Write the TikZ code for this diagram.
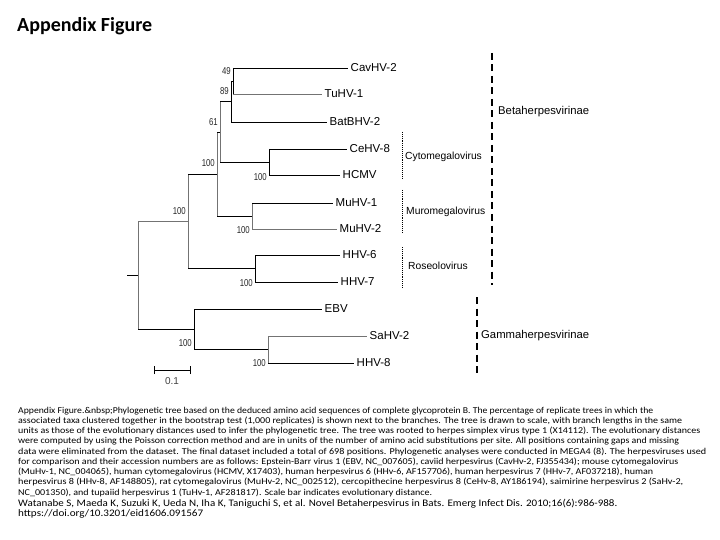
\documentclass[tikz,border=0pt]{standalone}
\usepackage{fontspec}
\usepackage{graphicx}
\setmainfont{Carlito}
\newfontfamily\arf{Liberation Sans}
\newcommand\bsn[1]{\scalebox{0.78}[1]{#1}}
\begin{document}
\begin{tikzpicture}[x=1pt,y=-1pt,
  br/.style={line width=0.95pt, black},
  tn/.style={line width=0.6pt, black},
  lt/.style={line width=0.6pt, black!55},
  leaf/.style={anchor=west, inner xsep=2.5pt, inner ysep=0pt, font=\arf\fontsize{11.5}{12}\selectfont},
  genus/.style={anchor=west, inner sep=0pt, font=\arf\fontsize{10.3}{11}\selectfont},
  subfam/.style={anchor=west, inner sep=0pt, font=\arf\fontsize{11.3}{12}\selectfont},
  bs/.style={anchor=east, inner sep=0pt, font=\arf\fontsize{10}{10}\selectfont, text=black!85},
  capl/.style={anchor=base west, inner sep=0pt, font=\fontsize{9}{10}\selectfont},
  citl/.style={anchor=base west, inner sep=0pt, font=\fontsize{10}{11}\selectfont},
  dotl/.style={line width=0.7pt, dash pattern=on 0.7pt off 1.2pt},
  dashl/.style={line width=1.7pt, dash pattern=on 7pt off 4.5pt}]
\useasboundingbox (0,0) rectangle (720,540);

% title
\node[anchor=base west, inner sep=0pt, font=\bfseries\fontsize{20}{24}\selectfont] (title) at (17,32) {Appendix Figure};

% leaves
\node[leaf] (cav)  at (348,68)  {CavHV-2};
\node[leaf] (tu)   at (322,94)  {TuHV-1};
\node[leaf] (bat)  at (327,122) {BatBHV-2};
\node[leaf] (ce)   at (347,149) {CeHV-8};
\node[leaf] (hcmv) at (340,175) {HCMV};
\node[leaf] (mu1)  at (333,203) {MuHV-1};
\node[leaf] (mu2)  at (337,229) {MuHV-2};
\node[leaf] (h6)   at (340,255) {HHV-6};
\node[leaf] (h7)   at (338,282) {HHV-7};
\node[leaf] (ebv)  at (322,309) {EBV};
\node[leaf] (sa)   at (367,336) {SaHV-2};
\node[leaf] (h8)   at (354,363) {HHV-8};

% internal nodes
\coordinate (n1)   at (233,81);
\coordinate (n2)   at (231,101.5);
\coordinate (cmv)  at (269,162);
\coordinate (n3)   at (220,132);
\coordinate (muro) at (252,216);
\coordinate (n4)   at (217,174);
\coordinate (ros)  at (255,268.5);
\coordinate (beta) at (188,221.25);
\coordinate (sh)   at (268,349.5);
\coordinate (gam)  at (194,329.25);
\coordinate (root) at (138,275.25);
\coordinate (stub) at (127,275.25);

% n1
\draw[tn] (n1 |- cav.west) -- (n1 |- tu.west);
\draw[tn] (n1 |- cav.west) -- (cav.west);
\draw[lt] (n1 |- tu.west) -- (tu.west);
% n2
\draw[tn] (n2 |- n1) -- (n2 |- bat.west);
\draw[tn] (n2 |- n1) -- (n1);
\draw[br] (n2 |- bat.west) -- (bat.west);
% cmv
\draw[tn] (cmv |- ce.west) -- (cmv |- hcmv.west);
\draw[br] (cmv |- ce.west) -- (ce.west);
\draw[br] (cmv |- hcmv.west) -- (hcmv.west);
% n3
\draw[lt] (n3 |- n2) -- (n3 |- cmv);
\draw[br] (n3 |- n2) -- (n2);
\draw[br] (n3 |- cmv) -- (cmv);
% muro
\draw[lt] (muro |- mu1.west) -- (muro |- mu2.west);
\draw[br] (muro |- mu1.west) -- (mu1.west);
\draw[lt] (muro |- mu2.west) -- (mu2.west);
% n4
\draw[lt] (n4 |- n3) -- (n4 |- muro);
\draw[br] (n4 |- n3) -- (n3);
\draw[br] (n4 |- muro) -- (muro);
% ros
\draw[tn] (ros |- h6.west) -- (ros |- h7.west);
\draw[br] (ros |- h6.west) -- (h6.west);
\draw[br] (ros |- h7.west) -- (h7.west);
% beta
\draw[lt] (beta |- n4) -- (beta |- ros);
\draw[br] (beta |- n4) -- (n4);
\draw[br] (beta |- ros) -- (ros);
% sh
\draw[lt] (sh |- sa.west) -- (sh |- h8.west);
\draw[lt] (sh |- sa.west) -- (sa.west);
\draw[tn] (sh |- h8.west) -- (h8.west);
% gam
\draw[tn] (gam |- ebv.west) -- (gam |- sh);
\draw[br] (gam |- ebv.west) -- (ebv.west);
\draw[br] (gam |- sh) -- (sh);
% root
\draw[lt] (root |- beta) -- (root |- gam);
\draw[lt] (root |- beta) -- (beta);
\draw[br] (root |- gam) -- (gam);
\draw[br] (stub) -- (root);

% bootstrap values
\node[bs] (b49)  at (231,71)  {\bsn{49}};
\node[bs] (b89)  at (229,91)  {\bsn{89}};
\node[bs] (b61)  at (218,122) {\bsn{61}};
\node[bs] (bn4)  at (215,163) {\bsn{100}};
\node[bs] (bbe)  at (186,211) {\bsn{100}};
\node[bs] (bcm)  at (267,177) {\bsn{100}};
\node[bs] (bmu)  at (250,230) {\bsn{100}};
\node[bs] (bro)  at (253,283) {\bsn{100}};
\node[bs] (bga)  at (192,343) {\bsn{100}};
\node[bs] (bsh)  at (266,363) {\bsn{100}};

% scale bar
\coordinate (sb1) at (154,370);
\coordinate (sb2) at (190,370);
\draw[br] (sb1) -- (sb2);
\draw[tn] ([yshift=-4pt]sb1) -- ([yshift=4pt]sb1);
\draw[tn] ([yshift=-4pt]sb2) -- ([yshift=4pt]sb2);
\node[font=\arf\fontsize{10}{10}\selectfont, text=black!75, inner sep=0pt] (sblab) at (172,381) {0.1};

% genus brackets
\coordinate (cy1) at (402,132); \coordinate (cy2) at (402,178);
\coordinate (mg1) at (402,190); \coordinate (mg2) at (402,232);
\coordinate (rs1) at (402,247); \coordinate (rs2) at (402,288);
\draw[dotl] (cy1) -- (cy2);
\draw[dotl] (mg1) -- (mg2);
\draw[dotl, line width=0.9pt] (rs1) -- (rs2);
\node[genus] (cylab) at (405,157) {Cytomegalovirus};
\node[genus] (mglab) at (406,212) {Muromegalovirus};
\node[genus] (rslab) at (408,266) {Roseolovirus};

% subfamily brackets
\coordinate (be1) at (492,53);  \coordinate (be2) at (492,285);
\coordinate (ga1) at (477,297); \coordinate (ga2) at (477,375);
\draw[dashl] (be1) -- (be2);
\draw[dashl] (ga1) -- (ga2);
\node[subfam] (belab) at (498,112) {Betaherpesvirinae};
\node[subfam] (galab) at (481,336) {Gammaherpesvirinae};

% caption
\node[capl] (c1) at (18,413) {\resizebox{635pt}{\height}{Appendix Figure.\&nbsp;Phylogenetic tree based on the deduced amino acid sequences of complete glycoprotein B. The percentage of replicate trees in which the}};
\node[capl] (c2) at (18,423.25) {\resizebox{664pt}{\height}{associated taxa clustered together in the bootstrap test (1,000 replicates) is shown next to the branches. The tree is drawn to scale, with branch lengths in the same}};
\node[capl] (c3) at (18,433.5) {\resizebox{682pt}{\height}{units as those of the evolutionary distances used to infer the phylogenetic tree. The tree was rooted to herpes simplex virus type 1 (X14112). The evolutionary distances}};
\node[capl] (c4) at (18,443.75) {\resizebox{661pt}{\height}{were computed by using the Poisson correction method and are in units of the number of amino acid substitutions per site. All positions containing gaps and missing}};
\node[capl] (c5) at (18,454) {\resizebox{688pt}{\height}{data were eliminated from the dataset. The final dataset included a total of 698 positions. Phylogenetic analyses were conducted in MEGA4 (8). The herpesviruses used}};
\node[capl] (c6) at (18,464.25) {\resizebox{660pt}{\height}{for comparison and their accession numbers are as follows: Epstein-Barr virus 1 (EBV, NC\_007605), caviid herpesvirus (CavHv-2, FJ355434); mouse cytomegalovirus}};
\node[capl] (c7) at (18,474.5) {\resizebox{635pt}{\height}{(MuHv-1, NC\_004065), human cytomegalovirus (HCMV, X17403), human herpesvirus 6 (HHv-6, AF157706), human herpesvirus 7 (HHv-7, AF037218), human}};
\node[capl] (c8) at (18,484.75) {\resizebox{665pt}{\height}{herpesvirus 8 (HHv-8, AF148805), rat cytomegalovirus (MuHv-2, NC\_002512), cercopithecine herpesvirus 8 (CeHv-8, AY186194), saimirine herpesvirus 2 (SaHv-2,}};
\node[capl] (c9) at (18,495) {\resizebox{414pt}{\height}{NC\_001350), and tupaiid herpesvirus 1 (TuHv-1, AF281817). Scale bar indicates evolutionary distance.}};

% citation
\node[citl] (r1) at (18,506.5) {\resizebox{599pt}{\height}{Watanabe S, Maeda K, Suzuki K, Ueda N, Iha K, Taniguchi S, et al. Novel Betaherpesvirus in Bats. Emerg Infect Dis. 2010;16(6):986-988.}};
\node[citl] (r2) at (18,516.5) {\resizebox{185pt}{\height}{https://doi.org/10.3201/eid1606.091567}};
\end{tikzpicture}
\end{document}
